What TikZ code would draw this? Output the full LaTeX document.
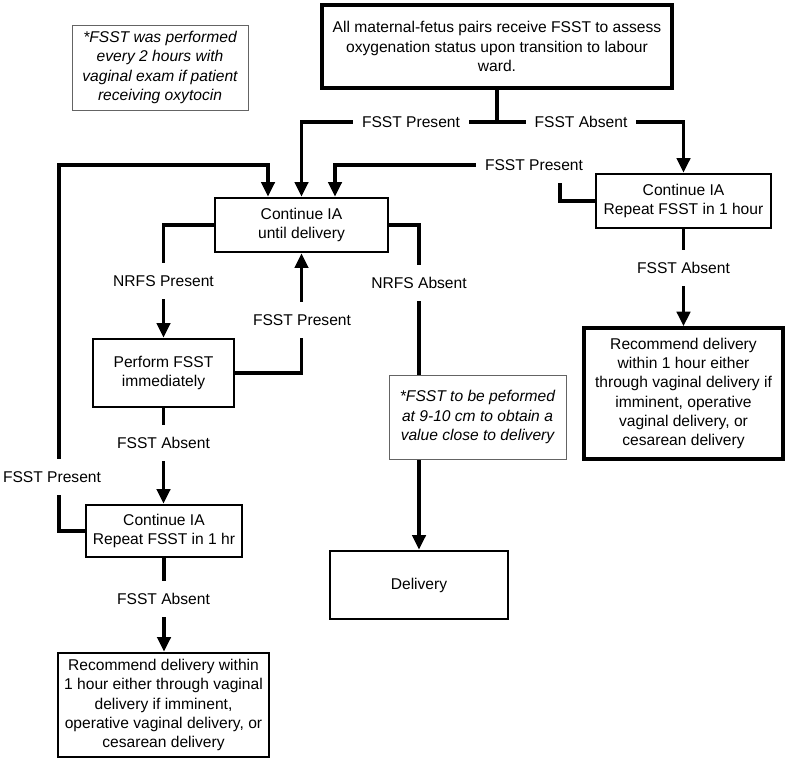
\documentclass[tikz,border=0pt]{standalone}
\usepackage{fontspec}
\setmainfont{Liberation Sans}
\usepackage{tikz}
\usetikzlibrary{arrows.meta}
\usetikzlibrary{calc}
\definecolor{notegray}{RGB}{100,100,100}

\begin{document}
\begin{tikzpicture}[x=0.75pt,y=0.75pt,yscale=-1,xscale=1,
  box/.style={draw, line width=1.9pt, align=center, inner sep=0pt, font=\fontsize{11.7}{14.4}\selectfont},
  bigbox/.style={box, line width=2.6pt},
  notebox/.style={draw=notegray, line width=0.75pt, fill=white, align=center, inner sep=0pt, font=\fontsize{11.7}{14.4}\selectfont\itshape},
  flow/.style={line width=2.6pt},
  flowarr/.style={flow, -{Triangle[length=11pt,width=10pt]}},
  lbl/.style={fill=white, inner xsep=6.5pt, inner ysep=9pt, font=\fontsize{11.7}{14.4}\selectfont}]
\useasboundingbox (0,0) rectangle (785,760);

%Shape: Rectangle [start]
\node[bigbox, minimum width=262.5pt, minimum height=62.25pt] (start) at (497,46.5) {All maternal-fetus pairs receive FSST to assess\\oxygenation status upon transition to labour\\ward.};
%Shape: Rectangle [noteA]
\node[notebox, minimum width=132pt, minimum height=63.75pt] (noteA) at (160,67.5) {*FSST was performed\\every 2 hours with\\vaginal exam if patient\\receiving oxytocin};
%Shape: Rectangle [contIA]
\node[box, minimum width=129.75pt, minimum height=40.5pt] (contIA) at (301.5,225) {Continue IA\\until delivery};
%Shape: Rectangle [repHour]
\node[box, minimum width=131.25pt, minimum height=40.5pt] (repHour) at (683.5,201) {Continue IA\\Repeat FSST in 1 hour};
%Shape: Rectangle [recRight]
\node[bigbox, minimum width=149.25pt, minimum height=98.25pt] (recRight) at (683.5,393.5) {Recommend delivery\\within 1 hour either\\through vaginal delivery if\\imminent, operative\\vaginal delivery, or\\cesarean delivery};
%Shape: Rectangle [perform]
\node[box, minimum width=105.75pt, minimum height=51pt] (perform) at (163.5,373) {Perform FSST\\immediately};
%Shape: Rectangle [repHr]
\node[box, minimum width=117pt, minimum height=39pt] (repHr) at (164,531) {Continue IA\\Repeat FSST in 1 hr};
%Shape: Rectangle [recLeft]
\node[box, minimum width=158.25pt, minimum height=78pt] (recLeft) at (163.5,705) {Recommend delivery within\\1 hour either through vaginal\\delivery if imminent,\\operative vaginal delivery, or\\cesarean delivery};
%Shape: Rectangle [delivery]
\node[box, minimum width=133.5pt, minimum height=51pt] (delivery) at (419,585) {Delivery};

%Straight Lines
\coordinate (split) at (497,122);
\coordinate (loopL) at (59,165);
\coordinate (loopR) at (560,165);
\draw[flow] (start.south) -- (split);
\draw[flowarr] (split) -| (contIA.north);
\draw[flowarr] (split) -| (repHour.north);
\draw[flowarr] (repHr.west) -| (loopL) -| ($(contIA.north)+(-33.5,0)$);
\draw[flowarr] (repHour.west) -| (loopR) -| ($(contIA.north)+(33.5,0)$);
\draw[flowarr] (contIA.west) -| (perform.north);
\draw[flowarr] (contIA.east) -| (delivery.north);
\draw[flowarr] (perform.east) -| (contIA.south);
\draw[flowarr] (perform.south) -- (perform.south |- repHr.north);
\draw[flowarr] (repHr.south) -- (repHr.south |- recLeft.north);
\draw[flowarr] (repHour.south) -- (recRight.north);

%Shape: Rectangle [noteB]
\node[notebox, minimum width=132.75pt, minimum height=63pt] (noteB) at (477.5,417) {*FSST to be peformed\\at 9-10 cm to obtain a\\value close to delivery};

% Text Node
\node[lbl] (presTop) at (411,122) {FSST Present};
% Text Node
\node[lbl] (absTop) at (581,122) {FSST Absent};
% Text Node
\node[lbl] (presRight) at (534,165) {FSST Present};
% Text Node
\node[lbl] (presLoop) at (52,477) {FSST Present};
% Text Node
\node[lbl] (nrfsPres) at (163.5,281) {NRFS Present};
% Text Node
\node[lbl] (nrfsAbs) at (419,283) {NRFS Absent};
% Text Node
\node[lbl] (presMid) at (302,320) {FSST Present};
% Text Node
\node[lbl] (absMid) at (163.5,443) {FSST Absent};
% Text Node
\node[lbl] (absLow) at (163.5,599) {FSST Absent};
% Text Node
\node[lbl] (absRight) at (683.5,268) {FSST Absent};

\end{tikzpicture}
\end{document}
